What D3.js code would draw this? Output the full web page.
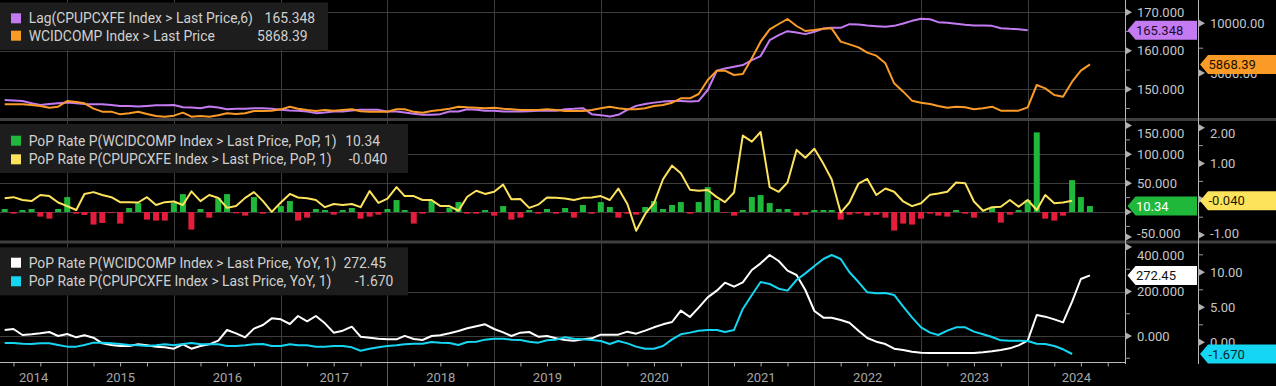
<!DOCTYPE html>
<html><head><meta charset="utf-8">
<script src="https://cdn.jsdelivr.net/npm/d3@7"></script>
<style>
html,body{margin:0;padding:0;background:#000;}
svg{display:block;}
text{font-family:Roboto,"Noto Sans",sans-serif;}
</style></head><body>
<svg id="c" width="1276" height="386"></svg>
<script>
// ---------- DATA ----------
const firstMonth = new Date(2014, 5, 1);           // Jun 2014
const months = d3.timeMonth.range(firstMonth, new Date(2024, 8, 1)); // Jun 2014 .. Aug 2024
const yearLabels = ["2014","2015","2016","2017","2018","2019","2020","2021","2022","2023","2024"];

// Lag(CPUPCXFE Index > Last Price,6)  (Jun 2014 .. Jan 2024)
const cpiLag = [147.23,147.10,146.97,146.37,145.94,146.20,146.37,146.54,146.37,146.20,
146.11,146.11,145.94,145.69,145.69,145.52,145.69,145.86,145.86,145.94,
145.35,145.26,145.09,145.52,145.26,144.84,144.92,144.92,145.09,145.09,
144.92,144.66,144.49,144.40,144.23,143.81,143.98,144.23,144.23,144.49,
144.66,144.66,144.66,144.23,144.23,143.98,143.64,143.38,143.38,143.55,
144.23,144.23,144.84,144.66,144.40,144.40,144.23,144.23,144.23,144.32,
144.40,144.40,144.40,144.84,144.92,145.09,143.55,143.29,142.95,143.38,
144.66,145.69,146.20,146.54,146.80,146.97,146.97,146.80,146.97,149.82,
154.83,155.43,155.86,156.29,157.59,158.63,162.77,164.06,165.10,164.76,
164.33,164.93,165.79,165.97,165.97,166.92,166.83,166.57,166.40,166.23,
166.48,167.09,167.78,168.30,168.21,167.44,167.26,167.00,166.75,166.57,
166.57,166.48,165.88,165.71,165.62,165.348];

// WCIDCOMP Index > Last Price (Jun 2014 .. Aug 2024)
const wci = [1856,1856,1856,1800,1688,1521,1621,2191,2090,1956,
1420,1119,1119,851,951,1119,884,683,616,717,
1018,616,683,616,750,951,884,951,1186,1186,
1219,1353,1621,1420,1286,1186,1286,1219,1286,1353,
1152,1119,1119,1119,1353,1353,1100,1018,1186,1286,
1420,1621,1554,1521,1454,1521,1420,1353,1286,1286,
1286,1353,1286,1186,1186,1186,1286,1454,1621,1454,
1353,1353,1454,1688,1789,2023,2459,2459,2894,4302,
5240,5240,4804,4904,6479,8154,9394,9930,10432,9729,
9226,9327,9461,9494,8154,7886,7584,7048,6747,5977,
3967,3129,2224,2023,1889,1688,1521,1621,1554,1353,
1454,1621,1219,1219,1219,1554,3799,3464,2794,2626,
4134,5240,5868.39];

// PoP Rate P(WCIDCOMP Index > Last Price, PoP, 1)
const wciPoP = [5.2,-2.9,3.4,5.2,-8,-11.5,5.2,25.9,-2.9,-5.2,
-21.8,-19,-1.7,-20.1,6.9,15.5,-13.2,-14.9,-14.9,15.5,
31,-30.5,5.2,-9.8,24.1,31,-2.3,-6.3,25.9,-2.9,
0.5,10.3,19,-14.9,-9.8,5.2,3.4,-4.6,3.4,6.9,
-11.5,-8,-4.6,5.2,20.7,3.4,-20.1,-2.9,19,-1.1,
7.5,17.2,-2.9,-2.9,3.4,-6.3,10.3,-13.2,-9.8,3.4,
-2.9,5.2,-2.9,6.9,-9.8,12.1,-2.9,17.2,8.6,-9.8,
-2.9,-4.6,8.6,19,5.2,12.1,17.2,-2.9,17.2,43.1,
20.7,-1.1,-6.3,3.4,25.9,29.3,15.5,5.2,5.2,-6.3,
-4.6,3.4,3.4,3.4,-13.2,-4.6,-2.9,-6.3,-4.6,-9.8,
-32.2,-20.1,-21.8,-11.5,-2.9,-6.3,-8,3.4,-2.9,-9.8,
0.5,7,-18.4,-4.6,3.4,20.7,138,-11.5,-14.9,-6.3,
55.2,25.9,10.34];

// PoP Rate P(CPUPCXFE Index > Last Price, PoP, 1)  (Jun 2014 .. Jun 2024)
const cpiPoP = [0.03,0.06,-0.02,-0.05,0.12,0.09,-0.09,-0.19,-0.30,0.15,
0.20,0.12,0.06,-0.08,-0.08,-0.09,0.06,-0.16,-0.08,-0.06,
-0.16,0.22,-0.05,0.12,0.04,-0.24,-0.19,0.04,0.20,-0.05,
-0.35,-0.09,0.15,0.05,0.03,-0.02,-0.22,-0.13,-0.16,-0.13,
-0.22,0.23,-0.10,0.02,0.34,0.09,0.09,-0.02,-0.02,-0.19,
-0.19,-0.32,0.07,0.24,0.15,0.21,0.41,0.00,0.01,-0.24,
-0.15,0.05,0.04,0.02,-0.02,0.04,0.05,0.09,-0.02,0.30,
-0.13,-0.88,-0.41,-0.11,0.56,0.94,0.73,0.27,0.24,0.26,
0.06,-0.08,0.19,1.78,1.61,1.88,0.34,0.21,0.47,1.38,
1.16,1.41,0.99,0.56,-0.37,-0.09,0.44,0.57,0.12,0.30,
0.21,-0.06,-0.19,-0.11,0.13,0.16,0.21,0.47,0.45,-0.06,
-0.32,-0.22,-0.21,-0.02,-0.21,-0.02,-0.30,0.12,-0.11,-0.09,
-0.04];

// PoP Rate P(WCIDCOMP Index > Last Price, YoY, 1)
const wciYoY = [27,31.5,4.5,7.5,12,18,0,9,-6,3,
-7.5,-33,-40.4,-45,-45,-37.5,-42,-48,-51,-57,
-37.5,-57,-45,-37.5,-21,27,12,-6,33,49.4,
79.4,74.9,53.9,89.9,65.9,89.9,56.9,15,24,42,
-3,-7.5,-12,-15,-15,0.5,-13.5,-18,0,3,
12,22.5,34.5,43.4,52.4,31.5,16.5,0,15,18,
-3,0,-10.5,-18,-21,-15,-10.5,6,6,6,
19.5,10.5,24,39,52.4,62.9,113.9,85.4,127.3,173.8,
203.7,239.7,221.7,241.2,296.6,326.6,364,337,293.6,274.2,
206.7,112.4,82.4,82.4,71.9,59.9,24,-9,-25.5,-36,
-57,-62.9,-70.4,-74.9,-76.4,-76.4,-76.4,-76.4,-76.4,-76.4,
-73.4,-68.9,-62.9,-55.4,-42,-21,94.4,86.9,74.9,61.4,
154.3,256.2,272.45];

// PoP Rate P(CPUPCXFE Index > Last Price, YoY, 1)  (Jun 2014 .. Jun 2024)
const cpiYoY = [-0.1,-0.1,-0.2,-0.24,-0.15,-0.15,-0.39,-0.62,-0.62,-0.39,
-0.05,-0.05,-0.15,-0.24,-0.39,-0.43,-0.53,-0.43,-0.29,-0.43,
-0.24,-0.1,-0.29,-0.29,-0.29,-0.53,-0.53,-0.43,-0.29,-0.24,
-0.53,-0.53,-0.29,-0.43,-0.43,-0.62,-0.62,-0.53,-0.53,-0.72,
-1.2,-0.91,-0.72,-0.53,-0.43,-0.29,-0.2,-0.2,0.04,-0.05,
-0.1,-0.39,0.04,0.09,0.38,0.52,0.52,0.38,0.33,0.09,
-0.05,0.28,0.38,0.71,0.52,0.42,0.33,0.19,-0.24,0.19,
-0.15,-0.62,-0.91,-0.91,-0.53,0.42,1.14,1.38,1.66,1.76,
1.76,1.47,1.76,4.76,6.76,8.61,8.33,7.66,7.38,8.9,
9.85,10.9,11.9,12.47,11.9,10.0,8.61,7.14,7.0,7.04,
6.76,5.09,3.57,2.14,1.38,1.04,1.66,2.14,2.14,1.52,
1.14,0.76,0.28,0.23,0.23,0.19,-0.2,-0.24,-0.53,-1.0,
-1.67];

// legend texts & last values
const legendTop = [["Lag(CPUPCXFE Index > Last Price,6)","165.348"],["WCIDCOMP Index > Last Price","5868.39"]];
const legendMid = [["PoP Rate P(WCIDCOMP Index > Last Price, PoP, 1)","10.34"],["PoP Rate P(CPUPCXFE Index > Last Price, PoP, 1)","-0.040"]];
const legendBot = [["PoP Rate P(WCIDCOMP Index > Last Price, YoY, 1)","272.45"],["PoP Rate P(CPUPCXFE Index > Last Price, YoY, 1)","-1.670"]];

// tick values (labels hidden under the last-value tags are omitted)
const ticksTopL = [150,160,170], minorTopL = [145,155,165];
const ticksTopR = [5000,10000], minorTopR = [7500];
const ticksMidL = [-50,50,100,150], arrowsMidL = [-50,0,50,100,150], minorMidL = [-25,25,75,125];
const ticksMidR = [-1,1,2], arrowsMidR = [-1,0,1,2], minorMidR = [-0.5,0.5,1.5];
const ticksBotL = [0,200,400], minorBotL = [-100,100,300];
const ticksBotR = [0,5,10], minorBotR = [2.5,7.5,12.5];

// ---------- STYLE ----------
const C = {purple:"#c47bf2", orange:"#f99b26", green:"#20b83b", red:"#e41d3d",
  yellow:"#fde35c", white:"#ffffff", cyan:"#14d6f2", grid:"#3d3d3d", sep:"#3f3f3f",
  axis:"#b9b9b9", txt:"#d0d0d0", lab:"#c6c6c6"};
const AXL = 1125, AXR = 1198;
const P = {top:[0,118], mid:[121,240], bot:[243,363]};

const svg = d3.select("#c");
svg.append("rect").attr("width",1276).attr("height",386).attr("fill","#000");

const x = d3.scaleTime().domain([new Date(2014,4,16), new Date(2024,10,29)]).range([0, AXL]);
const yTopL = d3.scaleLinear().domain([150,170]).range([89.3,12.3]);
const yTopR = d3.scaleLinear().domain([5000,10000]).range([73.05,23.3]);
const yMidL = d3.scaleLinear().domain([0,100]).range([212,154.3]);
const yMidR = d3.scaleLinear().domain([0,1]).range([199.3,163.5]);
const yBotL = d3.scaleLinear().domain([0,200]).range([336,291.5]);
const yBotR = d3.scaleLinear().domain([0,10]).range([342.3,272.3]);

const defs = svg.append("defs");
Object.entries(P).forEach(([k,[a,b]])=>{
  defs.append("clipPath").attr("id","clip-"+k).append("rect")
    .attr("x",0).attr("y",a).attr("width",AXL).attr("height",b-a);
});

// vertical year gridlines
const yearTicks = d3.timeYear.range(new Date(2015,0,1), new Date(2024,0,2));
svg.append("g").selectAll("line").data(yearTicks).join("line")
  .attr("x1",d=>Math.round(x(d))+0.5).attr("x2",d=>Math.round(x(d))+0.5)
  .attr("y1",0).attr("y2",386).attr("stroke",C.grid).attr("stroke-width",1);

// horizontal gridlines
function hgrid(scale, vals){
  svg.append("g").selectAll("line").data(vals).join("line")
    .attr("x1",0).attr("x2",AXL)
    .attr("y1",d=>Math.round(scale(d))+0.5).attr("y2",d=>Math.round(scale(d))+0.5)
    .attr("stroke",C.grid).attr("stroke-width",1);
}
hgrid(yTopL,[150,160,170]);
hgrid(yMidL,[0,50,100]);
hgrid(yBotL,[0,200]);

// series
function drawLine(panel, vals, yScale, color){
  const data = vals.map((v,i)=>({date:months[i], v}));
  svg.append("path").datum(data)
    .attr("clip-path","url(#clip-"+panel+")")
    .attr("fill","none").attr("stroke",color).attr("stroke-width",2)
    .attr("stroke-linejoin","round")
    .attr("d", d3.line().x(d=>x(d.date)).y(d=>yScale(d.v)));
}
drawLine("top", cpiLag, yTopL, C.purple);
drawLine("top", wci, yTopR, C.orange);

svg.append("g").attr("clip-path","url(#clip-mid)").selectAll("rect")
  .data(wciPoP.map((v,i)=>({date:months[i], v})))
  .join("rect")
  .attr("x",d=>x(d.date)-3).attr("width",6)
  .attr("y",d=>Math.min(yMidL(d.v), yMidL(0)))
  .attr("height",d=>Math.abs(yMidL(d.v)-yMidL(0)))
  .attr("fill",d=>d.v>=0?C.green:C.red);
drawLine("mid", cpiPoP, yMidR, C.yellow);

drawLine("bot", wciYoY, yBotL, C.white);
drawLine("bot", cpiYoY, yBotR, C.cyan);

// legends
function legend(y0, h, w, rows, colors, valEnds, rowYs){
  const g = svg.append("g");
  g.append("rect").attr("x",0).attr("y",y0).attr("width",w).attr("height",h).attr("fill","#1d1d1d");
  rows.forEach((r,i)=>{
    g.append("rect").attr("x",11).attr("y",rowYs[i]-5).attr("width",10).attr("height",10).attr("fill",colors[i]);
    g.append("text").attr("class","lg").attr("x",28.7).attr("y",rowYs[i]).attr("dy","0.36em")
      .attr("fill",C.txt).text(r[0]);
    g.append("text").attr("class","lgv").attr("x",valEnds[i]).attr("y",rowYs[i]).attr("dy","0.36em")
      .attr("text-anchor","end").attr("fill",C.txt).text(r[1]);
  });
}
legend(2.5, 47.5, 328, legendTop, [C.purple,C.orange], [315,307.5], [18.3,35.7]);
legend(124, 49, 408, legendMid, [C.green,C.yellow], [380,387.3], [140.7,159.3]);
legend(247.3, 48, 408, legendBot, [C.white,C.cyan], [386,393.3], [262.7,281.3]);

// fit legend font size
const probe = svg.append("text").style("font-size","13px").text(legendMid[0][0]);
const w13 = probe.node().getComputedTextLength();
probe.remove();
const lgSize = 13 * 308 / w13;
svg.selectAll("text.lg, text.lgv").style("font-size", lgSize.toFixed(2)+"px");

// separators
svg.append("rect").attr("x",0).attr("y",118).attr("width",1276).attr("height",3).attr("fill",C.sep);
svg.append("rect").attr("x",0).attr("y",240.5).attr("width",1276).attr("height",3).attr("fill",C.sep);

// axis lines
svg.append("line").attr("x1",AXL+0.5).attr("x2",AXL+0.5).attr("y1",0).attr("y2",364).attr("stroke",C.axis);
svg.append("line").attr("x1",AXR+0.5).attr("x2",AXR+0.5).attr("y1",0).attr("y2",364).attr("stroke",C.axis);

// x axis: quarter ticks via d3 axis
const qTicks = d3.timeMonth.every(3).range(new Date(2014,6,1), new Date(2024,10,1))
  .filter(d=>d.getMonth()!==0);
const xAxis = d3.axisBottom(x).tickValues(qTicks).tickSize(4).tickFormat("");
const gx = svg.append("g").attr("transform","translate(0,362.5)").call(xAxis);
gx.select(".domain").attr("stroke",C.axis).attr("d","M0,0H"+AXL);
gx.selectAll(".tick line").attr("stroke","#a8a8a8");
// year boundary lines in axis area
svg.append("g").selectAll("line").data(yearTicks).join("line")
  .attr("x1",d=>Math.round(x(d))+0.5).attr("x2",d=>Math.round(x(d))+0.5)
  .attr("y1",363).attr("y2",386).attr("stroke","#5c5c5c");
// year labels
const bounds = [0, ...yearTicks.map(d=>x(d)), AXL];
svg.append("g").selectAll("text").data(yearLabels).join("text")
  .attr("x",(d,i)=>(bounds[i]+bounds[i+1])/2).attr("y",377.5).attr("dy","0.36em")
  .attr("text-anchor","middle").attr("fill","#a6a6a6").style("font-size","13px").text(d=>d);

// y axes
function yAxis(ax, scale, panel, majors, arrows, minors, fmt){
  const [top,bot] = P[panel];
  const g = svg.append("g");
  g.selectAll("line.mn").data(minors).join("line").attr("class","mn")
    .attr("x1",ax).attr("x2",ax+5).attr("y1",d=>scale(d)).attr("y2",d=>scale(d))
    .attr("stroke","#9a9a9a");
  g.selectAll("path.ar").data(arrows).join("path").attr("class","ar")
    .attr("d",d=>{const y=Math.max(top+4,Math.min(bot-3,scale(d)));return `M${ax},${y-4}L${ax+7},${y}L${ax},${y+4}Z`;})
    .attr("fill","#b0b0b0");
  g.selectAll("text").data(majors).join("text")
    .attr("x",ax+12).attr("y",d=>Math.max(top+12.5,Math.min(bot-7,scale(d)))).attr("dy","0.36em")
    .attr("fill",C.lab).style("font-size","13px").text(fmt);
}
const f3 = d=>d3.format(".3f")(d).replace("\u2212","-");
const f2 = d=>d3.format(".2f")(d).replace("\u2212","-");
yAxis(AXL, yTopL, "top", ticksTopL, ticksTopL, minorTopL, f3);
yAxis(AXR, yTopR, "top", ticksTopR, ticksTopR, minorTopR, f2);
yAxis(AXL, yMidL, "mid", ticksMidL, arrowsMidL, minorMidL, f3);
yAxis(AXR, yMidR, "mid", ticksMidR, arrowsMidR, minorMidR, f2);
yAxis(AXL, yBotL, "bot", ticksBotL, ticksBotL, minorBotL, f3);
yAxis(AXR, yBotR, "bot", ticksBotR, ticksBotR, minorBotR, f2);

// last-value callouts
function callout(xp, xr, yc, label, fill, tcol){
  const g = svg.append("g");
  g.append("path").attr("d",`M${xp},${yc}L${xp+8},${yc-9.5}L${xr},${yc-9.5}L${xr},${yc+9.5}L${xp+8},${yc+9.5}Z`).attr("fill",fill);
  g.append("text").attr("x",xp+8.5).attr("y",yc).attr("dy","0.36em").attr("fill",tcol)
    .style("font-size","13px").text(label);
}
callout(AXL+2.5, AXR-1, yTopL(cpiLag[cpiLag.length-1]), "165.348", C.purple, "#1b0b2b");
callout(AXR+2, 1276, yTopR(wci[wci.length-1]), "5868.39", C.orange, "#1a1000");
callout(AXL+2.5, AXR-1, yMidL(wciPoP[wciPoP.length-1]), "10.34", C.green, "#ffffff");
callout(AXR+2, 1276, yMidR(cpiPoP[cpiPoP.length-1]), "-0.040", C.yellow, "#1a1a00");
callout(AXL+2.5, AXR-1, yBotL(wciYoY[wciYoY.length-1]), "272.45", C.white, "#111");
callout(AXR+2, 1276, yBotR(cpiYoY[cpiYoY.length-1]), "-1.670", C.cyan, "#06262b");
</script></body></html>
